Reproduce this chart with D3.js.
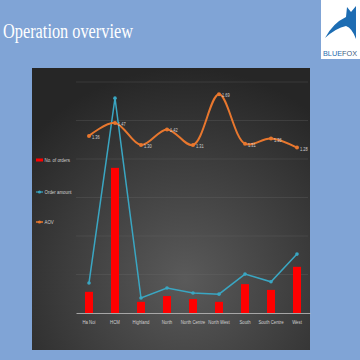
<!DOCTYPE html>
<html><head><meta charset="utf-8">
<script src="https://cdn.jsdelivr.net/npm/d3@7"></script>
<style>html,body{margin:0;padding:0;background:#80a4d6;}svg{display:block;}</style>
</head><body>
<svg id="c" width="360" height="360"></svg>
<script>
const categories = ["Ha Noi","HCM","Highland","North","North Centre","North West","South","South Centre","West"];
const orders = [5.5, 37.7, 2.9, 4.4, 3.6, 2.9, 7.5, 6.0, 12.0];
const orderAmount = [7.8, 55.8, 3.9, 6.5, 5.2, 4.9, 10.1, 8.1, 15.3];
const aov = [1.37, 1.47, 1.30, 1.42, 1.30, 1.69, 1.31, 1.35, 1.28];
const aovLabels = ["1.36","1.47","1.30","1.42","1.31","1.69","1.31","1.36","1.28"];
const seriesNames = ["No. of orders","Order amount","AOV"];
const gridTicks = [10,20,30,40,50,60];

const svg = d3.select("#c");
svg.append("rect").attr("width",360).attr("height",360).attr("fill","#80a4d6");

// title
svg.append("text").attr("x",3).attr("y",38).text("Operation overview")
  .attr("font-family","Liberation Serif, serif").attr("font-size",20).attr("fill","#fff")
  .attr("textLength",130).attr("lengthAdjust","spacingAndGlyphs");

// logo
const logo = svg.append("g");
logo.append("rect").attr("x",321).attr("y",0).attr("width",39).attr("height",59).attr("fill","#fff");
logo.append("path").attr("d","M325,38 Q333,23 346,17 L347,7 L351,12 L356,6 L356,39 Q352,28 346,26 Q336,28 325,38 Z").attr("fill","#1d6db3");
const lt = logo.append("text").attr("x",340).attr("y",56).attr("text-anchor","middle")
  .attr("font-family","Liberation Sans, Arial, sans-serif").attr("font-size",7.5).attr("textLength",34).attr("lengthAdjust","spacingAndGlyphs");
lt.append("tspan").attr("fill","#2a6db0").text("BLUE");
lt.append("tspan").attr("fill","#3f5d80").text("FOX");

// panel
const defs = svg.append("defs");
const rg = defs.append("radialGradient").attr("id","pg").attr("cx","55%").attr("cy","75%").attr("r","75%");
rg.append("stop").attr("offset","0%").attr("stop-color","#5a5a5a");
rg.append("stop").attr("offset","100%").attr("stop-color","#262626");
svg.append("rect").attr("x",32).attr("y",68).attr("width",278).attr("height",282).attr("fill","url(#pg)");

const x = d3.scaleBand().domain(categories).range([76,310]).padding(0);
const y = d3.scaleLinear().domain([0,60]).range([313,82]);
const yA = d3.scaleLinear().domain([1.2,1.8]).range([158,80]);
const cx = d => x(d) + x.bandwidth()/2;

// gridlines
svg.append("g").selectAll("line").data(gridTicks).join("line")
  .attr("x1",76).attr("x2",308).attr("y1",d=>y(d)).attr("y2",d=>y(d))
  .attr("stroke","#6a6a6a").attr("stroke-width",0.5).attr("opacity",0.6);

// x axis
const xa = svg.append("g").attr("transform","translate(0,313)").call(d3.axisBottom(x).tickSize(0).tickPadding(7));
xa.select(".domain").attr("stroke","#bfbfbf").attr("stroke-width",0.8);
xa.selectAll("text").attr("fill","#d0d0d0").attr("font-size",5.5).attr("font-family","Liberation Sans, Arial, sans-serif")
  .attr("transform","scale(0.78,1)");

// bars
const bw = 8;
svg.append("g").selectAll("rect").data(categories).join("rect")
  .attr("x",d=>cx(d)-bw/2).attr("width",bw)
  .attr("y",(d,i)=>y(orders[i])).attr("height",(d,i)=>y(0)-y(orders[i]))
  .attr("fill","#ff0000");

// order amount line
const line = d3.line().x((d,i)=>cx(categories[i])).y(d=>y(d));
svg.append("path").datum(orderAmount).attr("d",line).attr("fill","none").attr("stroke","#3aa6c2").attr("stroke-width",1.5);
svg.append("g").selectAll("circle").data(orderAmount).join("circle")
  .attr("cx",(d,i)=>cx(categories[i])).attr("cy",d=>y(d)).attr("r",1.8).attr("fill","#3aa6c2");

// AOV line
const lineA = d3.line().x((d,i)=>cx(categories[i])).y(d=>yA(d)).curve(d3.curveCatmullRom.alpha(0.5));
svg.append("path").datum(aov).attr("d",lineA).attr("fill","none").attr("stroke","#e8772e").attr("stroke-width",2);
svg.append("g").selectAll("circle").data(aov).join("circle")
  .attr("cx",(d,i)=>cx(categories[i])).attr("cy",d=>yA(d)).attr("r",2).attr("fill","#e8772e");
svg.append("g").selectAll("text").data(aov).join("text")
  .attr("transform",(d,i)=>`translate(${cx(categories[i])+3},${yA(d)+3}) scale(0.8,1)`)
  .text((d,i)=>aovLabels[i]).attr("fill","#d0d0d0").attr("font-size",5)
  .attr("font-family","Liberation Sans, Arial, sans-serif");

// legend
const leg = svg.append("g");
const ly = [160,192,222];
leg.append("rect").attr("x",36).attr("y",ly[0]-1.5).attr("width",7).attr("height",3).attr("fill","#ff0000");
leg.append("line").attr("x1",36).attr("x2",43).attr("y1",ly[1]).attr("y2",ly[1]).attr("stroke","#3aa6c2").attr("stroke-width",1.2);
leg.append("circle").attr("cx",39.5).attr("cy",ly[1]).attr("r",1.6).attr("fill","#3aa6c2");
leg.append("line").attr("x1",36).attr("x2",43).attr("y1",ly[2]).attr("y2",ly[2]).attr("stroke","#e8772e").attr("stroke-width",1.5);
leg.append("circle").attr("cx",39.5).attr("cy",ly[2]).attr("r",1.6).attr("fill","#e8772e");
leg.selectAll("text").data(seriesNames).join("text")
  .attr("transform",(d,i)=>`translate(44.5,${ly[i]+2}) scale(0.8,1)`).text(d=>d)
  .attr("fill","#d0d0d0").attr("font-size",5.5).attr("font-family","Liberation Sans, Arial, sans-serif");
</script>
</body></html>
